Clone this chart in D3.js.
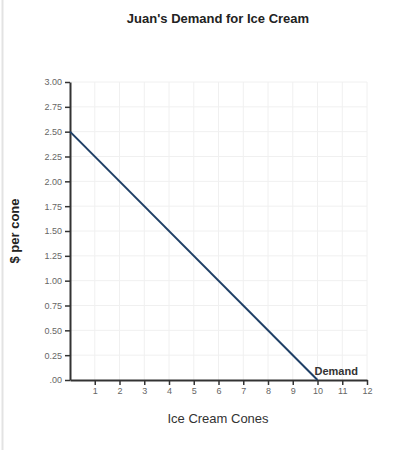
<!DOCTYPE html>
<html>
<head>
<meta charset="utf-8">
<script src="https://cdn.jsdelivr.net/npm/d3@7"></script>
<style>
  body { margin: 0; background: #fff; }
  svg { display: block; }
</style>
</head>
<body>
<div id="chart"></div>
<script>
// demand curve points (cones, price)
var quantity = [0, 10];
var price = [2.5, 0];
var xTicks = [1, 2, 3, 4, 5, 6, 7, 8, 9, 10, 11, 12];
var yTicks = [0, 0.25, 0.5, 0.75, 1, 1.25, 1.5, 1.75, 2, 2.25, 2.5, 2.75, 3];
var seriesName = "Demand";

var width = 395, height = 450;
var margin = { top: 82, right: 28, bottom: 70, left: 70 };

var svg = d3.select("#chart").append("svg")
  .attr("width", width)
  .attr("height", height)
  .attr("font-family", "Arial, 'Liberation Sans', sans-serif");

// faint frame line on the left
svg.append("line")
  .attr("x1", 2.5).attr("x2", 2.5)
  .attr("y1", 0).attr("y2", height)
  .attr("stroke", "#e3e3e3").attr("stroke-width", 2);

var x = d3.scaleLinear().domain([0, 12]).range([margin.left, width - margin.right]);
var y = d3.scaleLinear().domain([0, 3]).range([height - margin.bottom, margin.top]);

// grid
svg.append("g").selectAll("line")
  .data(xTicks)
  .join("line")
  .attr("x1", d => x(d)).attr("x2", d => x(d))
  .attr("y1", y(3)).attr("y2", y(0))
  .attr("stroke", "#f0f0f0");
svg.append("g").selectAll("line")
  .data(yTicks.slice(1))
  .join("line")
  .attr("x1", x(0)).attr("x2", x(12))
  .attr("y1", d => y(d)).attr("y2", d => y(d))
  .attr("stroke", "#f0f0f0");

// axes
var xAxis = svg.append("g")
  .attr("transform", `translate(0,${y(0)})`)
  .call(d3.axisBottom(x).tickValues(xTicks).tickSize(5).tickSizeOuter(0).tickPadding(3));
var yAxis = svg.append("g")
  .attr("transform", `translate(${x(0)},0)`)
  .call(d3.axisLeft(y).tickValues(yTicks).tickSize(5).tickSizeOuter(0).tickPadding(3)
    .tickFormat(d => d === 0 ? ".00" : d3.format(".2f")(d)));

[xAxis, yAxis].forEach(function(g) {
  g.select(".domain").attr("stroke", "#333").attr("stroke-width", 2);
  g.selectAll(".tick line").attr("stroke", "#333").attr("stroke-width", 1.5);
  g.selectAll(".tick text").attr("fill", "#666").attr("font-size", 9);
});

// demand line
var pts = quantity.map((q, i) => [q, price[i]]);
svg.append("path")
  .datum(pts)
  .attr("fill", "none")
  .attr("stroke", "#1f3f66")
  .attr("stroke-width", 2)
  .attr("d", d3.line().x(d => x(d[0])).y(d => y(d[1])));

svg.append("text")
  .attr("x", x(10) - 3)
  .attr("y", y(0) - 5)
  .attr("font-size", 11)
  .attr("font-weight", "bold")
  .attr("fill", "#333")
  .text(seriesName);

// titles
svg.append("text")
  .attr("x", 218).attr("y", 23)
  .attr("text-anchor", "middle")
  .attr("font-size", 13)
  .attr("font-weight", "bold")
  .attr("fill", "#222")
  .text("Juan's Demand for Ice Cream");

svg.append("text")
  .attr("transform", `translate(19,${(y(0) + y(3)) / 2}) rotate(-90)`)
  .attr("text-anchor", "middle")
  .attr("font-size", 13)
  .attr("font-weight", "bold")
  .attr("fill", "#222")
  .text("$ per cone");

svg.append("text")
  .attr("x", 218).attr("y", 423)
  .attr("text-anchor", "middle")
  .attr("font-size", 13)
  .attr("fill", "#333")
  .text("Ice Cream Cones");
</script>
</body>
</html>
